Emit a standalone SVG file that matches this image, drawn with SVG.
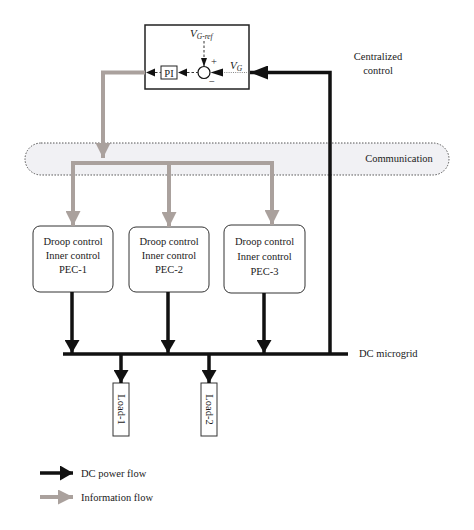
<svg xmlns="http://www.w3.org/2000/svg" width="474" height="530" viewBox="0 0 474 530">
<style>
text{font-family:"Liberation Serif","Times New Roman",serif;font-size:10.5px;fill:#1a1a1a}
.node{fill:#fff;stroke:#333;stroke-width:1}
.pw{fill:none;stroke:#111;stroke-width:3.5}
.inf{fill:none;stroke:#aaa19d;stroke-width:4}
.dash{fill:none;stroke:#333;stroke-width:1;stroke-dasharray:2.5 2}
.dot{fill:none;stroke:#888;stroke-width:1;stroke-dasharray:1 1.2}
.ital{font-style:italic}
</style>
<defs>
<marker id="ab" markerUnits="userSpaceOnUse" markerWidth="14" markerHeight="15" refX="13" refY="7.5" orient="auto" viewBox="0 0 14 15">
<path d="M0,0 L13,7.5 L0,15 z" fill="#111"/>
</marker>
<marker id="abl" markerUnits="userSpaceOnUse" markerWidth="19" markerHeight="14" refX="18" refY="7" orient="auto" viewBox="0 0 19 14">
<path d="M0,0 L18,7 L0,14 z" fill="#111"/>
</marker>
<marker id="ag" markerUnits="userSpaceOnUse" markerWidth="16" markerHeight="15" refX="15" refY="7.5" orient="auto" viewBox="0 0 16 15">
<path d="M0,0 L15,7.5 L0,15 z" fill="#aaa19d"/>
</marker>
</defs>

<g id="communication">
<rect x="25" y="143" width="424" height="32" rx="16" fill="#f1f1f4" stroke="#555" stroke-width="1" stroke-dasharray="1.5 1.5"/>
<text x="399" y="162" text-anchor="middle">Communication</text>
</g>

<g id="central-controller">
<rect x="145" y="25" width="104" height="64" fill="#fff" stroke="#222" stroke-width="1.5"/>
<text x="190" y="37"><tspan class="ital" font-size="11">V</tspan><tspan class="ital" font-size="7.5" dy="2">G-ref</tspan></text>
<line class="dash" x1="204" y1="41" x2="204" y2="66"/>
<path d="M201,58 L204,66.5 L207,58 z" fill="#111"/>
<circle cx="204" cy="72.5" r="6" fill="#fff" stroke="#111" stroke-width="1.2"/>
<text x="211" y="65" font-size="8">+</text>
<text x="209" y="85" font-size="9">−</text>
<line class="dot" x1="222" y1="72.5" x2="247" y2="72.5"/>
<path d="M223,68.5 L210.5,72.5 L223,76.5 z" fill="#111"/>
<text x="230" y="69"><tspan class="ital" font-size="11">V</tspan><tspan class="ital" font-size="7.5" dy="2">G</tspan></text>
<line class="dash" x1="187" y1="72.5" x2="198" y2="72.5"/>
<path d="M187,68.5 L178,72.5 L187,76.5 z" fill="#111"/>
<rect x="161" y="66" width="16" height="13" fill="#fff" stroke="#222" stroke-width="1"/>
<text x="169" y="76.5" text-anchor="middle" font-size="9.5">PI</text>
<line class="dash" x1="155" y1="72.5" x2="161" y2="72.5"/>
<path d="M155,68.5 L146,72.5 L155,76.5 z" fill="#111"/>
</g>
<g id="centralized-label">
<text x="378" y="60" text-anchor="middle">Centralized</text>
<text x="378" y="74" text-anchor="middle">control</text>
</g>

<g id="pec1">
<rect class="node" x="33" y="226" width="80" height="66" rx="7"/>
<text x="73" y="245" text-anchor="middle">Droop control</text>
<text x="73" y="259" text-anchor="middle">Inner control</text>
<text x="73" y="273" text-anchor="middle">PEC-1</text>
</g>
<g id="pec2">
<rect class="node" x="129" y="227" width="80" height="65" rx="7"/>
<text x="169" y="245" text-anchor="middle">Droop control</text>
<text x="169" y="259" text-anchor="middle">Inner control</text>
<text x="169" y="273" text-anchor="middle">PEC-2</text>
</g>
<g id="pec3">
<rect class="node" x="224" y="225" width="81" height="68" rx="7"/>
<text x="264.5" y="245" text-anchor="middle">Droop control</text>
<text x="264.5" y="260" text-anchor="middle">Inner control</text>
<text x="264.5" y="275" text-anchor="middle">PEC-3</text>
</g>

<g id="load1">
<rect class="node" x="113" y="383" width="16" height="53"/>
<text transform="translate(121,409.5) rotate(90)" text-anchor="middle" dominant-baseline="central">Load-1</text>
</g>
<g id="load2">
<rect class="node" x="201" y="383" width="16" height="53"/>
<text transform="translate(209,409.5) rotate(90)" text-anchor="middle" dominant-baseline="central">Load-2</text>
</g>

<g id="bus-label">
<text x="359" y="357">DC microgrid</text>
</g>

<g id="connectors">
<path class="inf" d="M145,72.5 H103 V158" marker-end="url(#ag)"/>
<line class="inf" x1="71" y1="163" x2="274" y2="163"/>
<line class="inf" x1="73" y1="163" x2="73" y2="226" marker-end="url(#ag)"/>
<line class="inf" x1="169" y1="163" x2="169" y2="227" marker-end="url(#ag)"/>
<line class="inf" x1="272" y1="163" x2="272" y2="225" marker-end="url(#ag)"/>
<line class="pw" x1="63" y1="354" x2="348" y2="354"/>
<line class="pw" x1="72" y1="292" x2="72" y2="353" marker-end="url(#ab)"/>
<line class="pw" x1="168" y1="292" x2="168" y2="353" marker-end="url(#ab)"/>
<line class="pw" x1="264" y1="293" x2="264" y2="353" marker-end="url(#ab)"/>
<line class="pw" x1="121" y1="354" x2="121" y2="383" marker-end="url(#ab)"/>
<line class="pw" x1="209" y1="354" x2="209" y2="383" marker-end="url(#ab)"/>
<path class="pw" d="M330,354 V72.5 H250" marker-end="url(#abl)"/>
</g>

<g id="legend">
<line class="pw" x1="40" y1="473" x2="73" y2="473" stroke-width="4.5" marker-end="url(#ab)"/>
<text x="81" y="477">DC power flow</text>
<line class="inf" x1="40" y1="497" x2="73" y2="497" marker-end="url(#ag)"/>
<text x="81" y="501">Information flow</text>
</g>
</svg>
